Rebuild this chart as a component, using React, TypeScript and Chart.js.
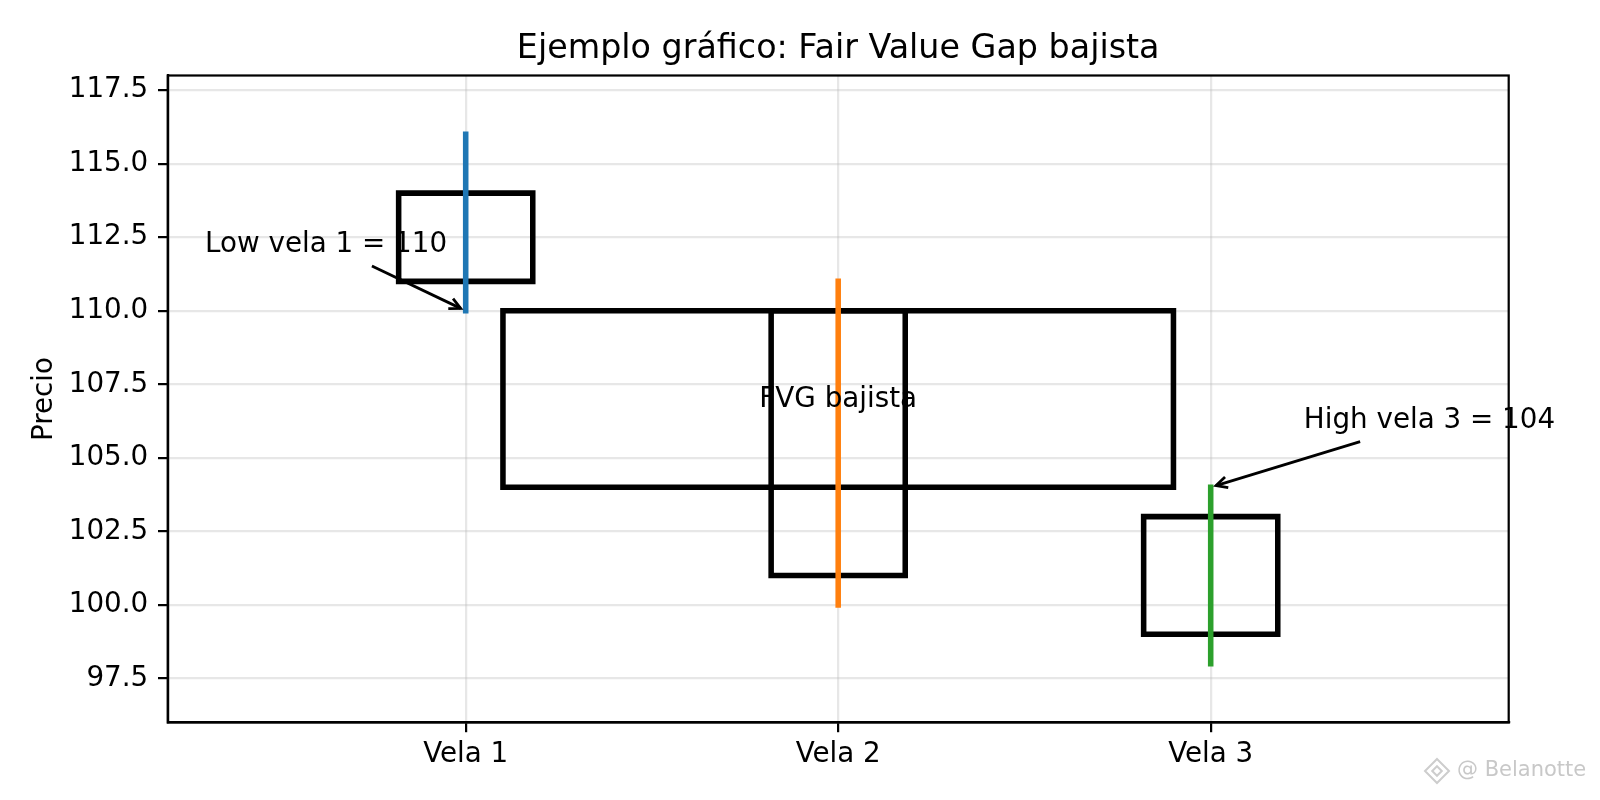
import { useEffect, useRef } from "react"
import { Chart, registerables } from "chart.js"

Chart.register(...registerables)
Chart.defaults.font.family = "'DejaVu Sans', sans-serif"
Chart.defaults.color = "#000"

// datos de las tres velas
const velas = ["Vela 1", "Vela 2", "Vela 3"]
const posX = [0, 1, 2]
const highs = [116, 111, 104]
const lows = [110, 100, 98]
const cuerpoArriba = [114, 110, 103]
const cuerpoAbajo = [111, 101, 99]
const coloresMecha = ["#1f77b4", "#ff7f0e", "#2ca02c"]
const yTicks = [97.5, 100, 102.5, 105, 107.5, 110, 112.5, 115, 117.5]

// FVG bajista: entre el low de la vela 1 y el high de la vela 3
const fvgX = [0.1, 1.9]
const fvgY = [lows[0], highs[2]]
const fvgTexto = { texto: "FVG bajista", x: 1, y: 107 }

const notas = [
    { texto: "Low vela 1 = 110", x: -0.7, y: 112, ax: 0, ay: lows[0] },
    { texto: "High vela 3 = 104", x: 2.25, y: 106, ax: 2, ay: highs[2] },
]

const PT = 200 / 72
const MEDIO_ANCHO = 0.18
const FUENTE = "'DejaVu Sans', sans-serif"

const rect = (x0: number, x1: number, y0: number, y1: number) => [
    { x: x0, y: y0 }, { x: x1, y: y0 }, { x: x1, y: y1 }, { x: x0, y: y1 }, { x: x0, y: y0 },
]

const flecha = (ctx: CanvasRenderingContext2D, x0: number, y0: number, x1: number, y1: number) => {
    const a = Math.atan2(y1 - y0, x1 - x0)
    const c = Math.cos(a), s = Math.sin(a)
    const hl = 4 * PT, hw = 2 * PT
    ctx.beginPath()
    ctx.moveTo(x0, y0)
    ctx.lineTo(x1, y1)
    ctx.stroke()
    ctx.beginPath()
    ctx.moveTo(x1 - hl * c + hw * s, y1 - hl * s - hw * c)
    ctx.lineTo(x1, y1)
    ctx.lineTo(x1 - hl * c - hw * s, y1 - hl * s + hw * c)
    ctx.stroke()
}

const extras = {
    id: "extras",
    afterDatasetsDraw(chart: any) {
        const { ctx, chartArea: ca, scales } = chart
        const sx = scales.x, sy = scales.y
        ctx.save()
        // marco completo
        ctx.strokeStyle = "#000"
        ctx.lineWidth = 0.8 * PT
        ctx.strokeRect(ca.left, ca.top, ca.right - ca.left, ca.bottom - ca.top)

        ctx.font = `${10 * PT}px ${FUENTE}`
        ctx.fillStyle = "#000"
        // texto del FVG centrado
        const m = ctx.measureText(fvgTexto.texto)
        const asc = m.actualBoundingBoxAscent, desc = m.actualBoundingBoxDescent
        ctx.textAlign = "center"
        ctx.textBaseline = "alphabetic"
        ctx.fillText(fvgTexto.texto, sx.getPixelForValue(fvgTexto.x), sy.getPixelForValue(fvgTexto.y) + (asc - desc) / 2)

        // anotaciones con flecha
        ctx.textAlign = "left"
        const lp = ctx.measureText("lp")
        ctx.lineWidth = 1 * PT
        ctx.strokeStyle = "#000"
        ctx.lineJoin = "miter"
        ctx.lineCap = "butt"
        notas.forEach(n => {
            const tx = sx.getPixelForValue(n.x), ty = sy.getPixelForValue(n.y)
            ctx.fillText(n.texto, tx, ty)
            const w = ctx.measureText(n.texto).width
            const pad = 2 * PT
            const left = tx - pad, right = tx + w + pad
            const top = ty - lp.actualBoundingBoxAscent - pad, bottom = ty + lp.actualBoundingBoxDescent + pad
            const cx = (left + right) / 2, cy = (top + bottom) / 2
            const px = sx.getPixelForValue(n.ax), py = sy.getPixelForValue(n.ay)
            const dx = px - cx, dy = py - cy
            const tX = dx > 0 ? (right - cx) / dx : (left - cx) / dx
            const tY = dy > 0 ? (bottom - cy) / dy : (top - cy) / dy
            const t = Math.min(tX, tY)
            const len = Math.hypot(dx, dy)
            const ux = dx / len, uy = dy / len
            const shrink = 2 * PT
            const x0 = cx + t * dx + ux * shrink, y0 = cy + t * dy + uy * shrink
            flecha(ctx, x0, y0, px - ux * shrink, py - uy * shrink)
        })
        ctx.restore()
    },
    afterDraw(chart: any) {
        const { ctx } = chart
        ctx.save()
        // marca de agua
        ctx.fillStyle = "#c8c8c8"
        ctx.strokeStyle = "#cdcdcd"
        ctx.lineWidth = 2
        const cx = 1437, cy = 771, r = 12
        ctx.beginPath()
        ctx.moveTo(cx, cy - r)
        ctx.lineTo(cx + r, cy)
        ctx.lineTo(cx, cy + r)
        ctx.lineTo(cx - r, cy)
        ctx.closePath()
        ctx.stroke()
        ctx.beginPath()
        ctx.moveTo(cx, cy - r / 2.5)
        ctx.lineTo(cx + r / 2.5, cy)
        ctx.lineTo(cx, cy + r / 2.5)
        ctx.lineTo(cx - r / 2.5, cy)
        ctx.closePath()
        ctx.stroke()
        ctx.font = `21px ${FUENTE}`
        ctx.textAlign = "left"
        ctx.textBaseline = "middle"
        ctx.fillText("@ Belanotte", 1457, cy)
        ctx.restore()
    },
}

const App = () => {
    const chartRef = useRef<HTMLCanvasElement>(null)
    useEffect(() => {
        document.body.style.margin = "0"
        if (!chartRef.current)
            return
        const datasets: any[] = []
        datasets.push({
            label: "FVG",
            data: rect(fvgX[0], fvgX[1], fvgY[1], fvgY[0]),
            borderColor: "#000",
            borderWidth: 2 * PT,
            borderCapStyle: "square",
            borderJoinStyle: "miter",
            order: 3,
        })
        posX.forEach((x, i) => {
            datasets.push({
                label: "cuerpo " + velas[i],
                data: rect(x - MEDIO_ANCHO, x + MEDIO_ANCHO, cuerpoAbajo[i], cuerpoArriba[i]),
                borderColor: "#000",
                borderWidth: 2 * PT,
                borderCapStyle: "square",
                borderJoinStyle: "miter",
                order: 2,
            })
            datasets.push({
                label: "mecha " + velas[i],
                data: [{ x, y: lows[i] }, { x, y: highs[i] }],
                borderColor: coloresMecha[i],
                borderWidth: 2 * PT,
                borderCapStyle: "square",
                order: 1,
            })
        })
        datasets.forEach(d => {
            d.showLine = true
            d.fill = false
            d.pointRadius = 0
            d.pointHoverRadius = 0
            d.tension = 0
        })
        const grid = {
            color: "rgba(176,176,176,0.3)",
            lineWidth: 0.8 * PT,
            tickColor: "#000",
            tickLength: 3.5 * PT,
            tickWidth: 0.8 * PT,
        }
        const chart = new Chart(chartRef.current, {
            type: "scatter",
            data: { datasets },
            plugins: [extras],
            options: {
                responsive: false,
                animation: false,
                events: [],
                layout: { padding: { left: 0, right: 91.3, top: 0, bottom: 0 } },
                plugins: {
                    legend: { display: false },
                    tooltip: { enabled: false },
                    title: {
                        display: true,
                        text: "Ejemplo gráfico: Fair Value Gap bajista",
                        fullSize: false,
                        color: "#000",
                        font: { size: 12 * PT, weight: "normal", lineHeight: 1.2 },
                        padding: { top: 28.9, bottom: 6.6 },
                    },
                },
                scales: {
                    x: {
                        type: "linear",
                        min: -0.8,
                        max: 2.8,
                        grid,
                        border: { display: true, color: "#000", width: 0.8 * PT },
                        afterBuildTicks: (s: any) => { s.ticks = posX.map(v => ({ value: v })) },
                        afterFit: (s: any) => { s.height = 77.5 },
                        ticks: {
                            autoSkip: false,
                            maxRotation: 0,
                            padding: 6,
                            color: "#000",
                            font: { size: 10 * PT },
                            callback: (v: any) => velas[posX.indexOf(Number(v))] ?? "",
                        },
                    },
                    y: {
                        type: "linear",
                        min: 96,
                        max: 118,
                        grid,
                        border: { display: true, color: "#000", width: 0.8 * PT },
                        afterBuildTicks: (s: any) => { s.ticks = yTicks.map(v => ({ value: v })) },
                        afterFit: (s: any) => { s.width = 167.7 },
                        ticks: {
                            padding: 3.5 * PT,
                            color: "#000",
                            font: { size: 10 * PT },
                            callback: (v: any) => Number(v).toFixed(1),
                        },
                        title: {
                            display: true,
                            text: "Precio",
                            color: "#000",
                            font: { size: 10 * PT },
                            padding: { top: 28, bottom: 0 },
                        },
                    },
                },
            },
        } as any)
        return () => {
            chart.destroy()
        }
    }, [])
    return <div style={{ width: 1600, height: 800 }}>
        <canvas ref={chartRef} width={1600} height={800} style={{ display: "block" }}></canvas>
    </div>
}
export default App
